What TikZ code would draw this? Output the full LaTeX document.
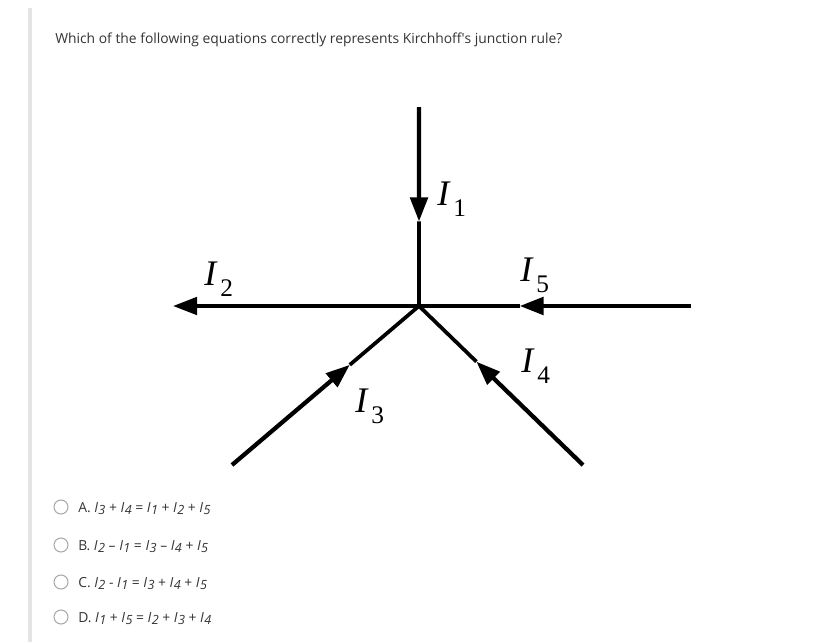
\documentclass[tikz,border=0pt]{standalone}
\usepackage{fontspec}
\setmainfont{Open Sans}
\newfontfamily\osplain{Open Sans}
\newfontfamily\tnr{Liberation Serif}
\usetikzlibrary{arrows.meta,calc}
\definecolor{txt}{HTML}{333333}
\definecolor{bar}{HTML}{E4E4E4}
\definecolor{radio}{HTML}{A8A8A8}
\newcommand\curlab[1]{{\tnr\fontsize{27}{27}\selectfont\textit{I}\kern2pt\raisebox{-8.5pt}{\fontsize{19}{19}\selectfont #1}}}
\newcommand\oi[1]{\textit{I\kern0.3pt\raisebox{-0.35ex}{\fontsize{9.5}{9.5}\selectfont #1}}}
\tikzset{
  outerw/.style={line width=3.2pt},
  innerw/.style={line width=2.8pt},
  tip/.style={-{Triangle[length=18pt,width=13pt]}},
  lab/.style={inner sep=0pt,anchor=base west},
  opt/.style={inner sep=0pt,anchor=base west,text=txt,font=\fontsize{10.4}{12}\selectfont},
  radiob/.style={draw=radio,line width=0.8pt,circle,minimum size=10.5pt,inner sep=0pt}
}
\begin{document}
\begin{tikzpicture}[x=0.75pt,y=-0.75pt]
\useasboundingbox (0,0) rectangle (813,642);
\fill[bar] (28,8) rectangle (32,642);
\node[opt] (q) at (55,44) {Which of the following equations correctly represents Kirchhoff{\osplain'}s junction rule?};
% junction diagram
\coordinate (J) at (419,306);
\coordinate (T) at (419,107);
\coordinate (L) at (173,306);
\coordinate (R) at (691,306);
\coordinate (BL) at (232,465);
\coordinate (BR) at (583,465);
\coordinate (a1) at ($(T)!0.575!(J)$);
\coordinate (a5) at ($(R)!0.63!(J)$);
\coordinate (a3) at ($(BL)!0.63!(J)$);
\coordinate (a4) at ($(BR)!0.65!(J)$);
\draw[outerw,tip] (T) -- (a1);
\draw[innerw] (a1) -- (J);
\draw[outerw,tip] (R) -- (a5);
\draw[innerw] (a5) -- (J);
\draw[outerw,tip] (BL) -- (a3);
\draw[innerw] (a3) -- (J);
\draw[outerw,tip] (BR) -- (a4);
\draw[innerw] (a4) -- (J);
\draw[innerw,tip] (J) -- (L);
\node[lab] (l1) at (437,205) {\curlab{1}};
\node[lab] (l2) at (204,285) {\curlab{2}};
\node[lab] (l5) at (520,281) {\curlab{5}};
\node[lab] (l4) at (521,372) {\curlab{4}};
\node[lab] (l3) at (355,412) {\curlab{3}};
% options
\node[radiob] (ra) at (61,507) {};
\node[radiob] (rb) at (61,545) {};
\node[radiob] (rc) at (61,582) {};
\node[radiob] (rd) at (61,617) {};
\node[opt] (oa) at (78,512) {A. \oi{3} + \oi{4} = \oi{1} + \oi{2} + \oi{5}};
\node[opt] (ob) at (78,550) {B. \oi{2} – \oi{1} = \oi{3} – \oi{4} + \oi{5}};
\node[opt] (oc) at (78,587) {C. \oi{2} - \oi{1} = \oi{3} + \oi{4} + \oi{5}};
\node[opt] (od) at (78,622) {D. \oi{1} + \oi{5} = \oi{2} + \oi{3} + \oi{4}};
\end{tikzpicture}
\end{document}
